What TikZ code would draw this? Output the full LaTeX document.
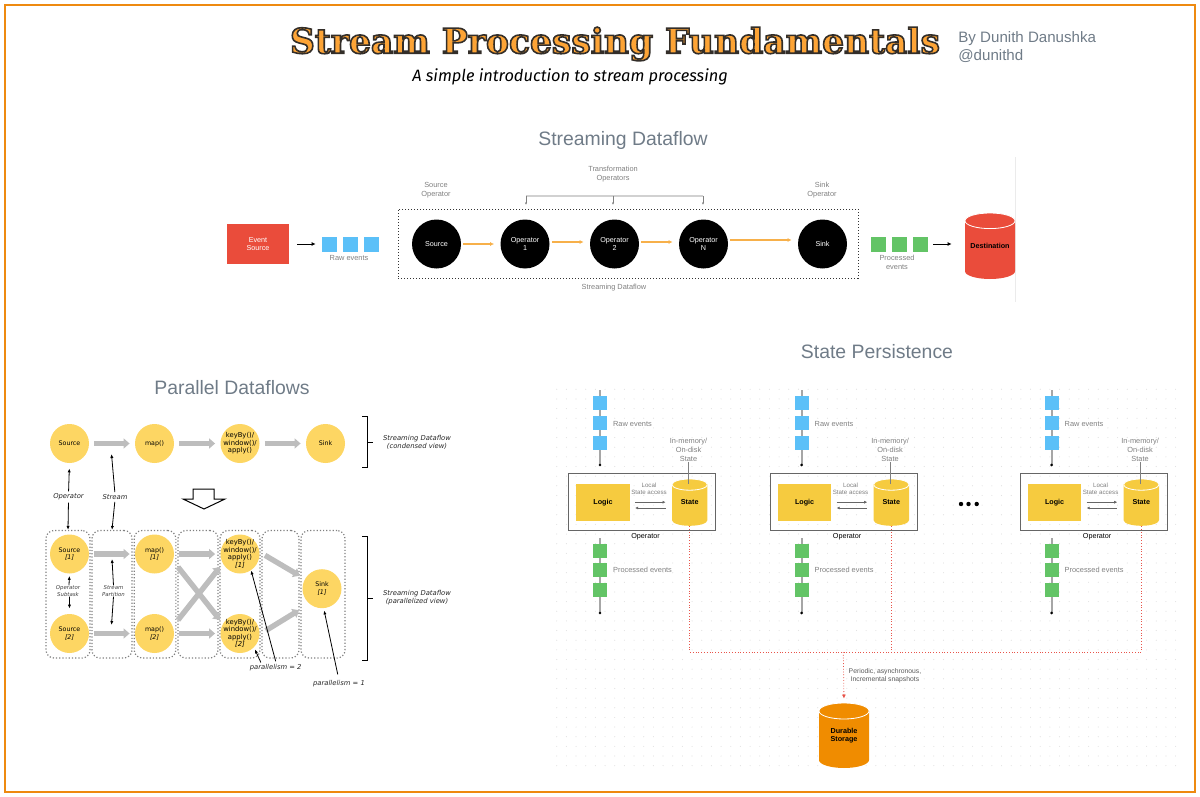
\documentclass[tikz,border=0pt]{standalone}
\usepackage{fontspec}
\setmainfont{Liberation Sans}
\newfontfamily\vera{DejaVu Sans}
\newfontfamily\chunky{DejaVu Serif}
\newfontfamily\hand{Fira Sans}
\usetikzlibrary{arrows.meta,calc}
\definecolor{frameor}{HTML}{EE8A10}
\definecolor{titleor}{HTML}{FDA436}
\definecolor{headgray}{HTML}{6F7B87}
\definecolor{notegray}{HTML}{808080}
\definecolor{evred}{HTML}{EA4C3B}
\definecolor{evblue}{HTML}{5BC0F8}
\definecolor{evgreen}{HTML}{63C466}
\definecolor{flowor}{HTML}{F7B04A}
\definecolor{bubble}{HTML}{FDD663}
\definecolor{lanegray}{HTML}{BDBDBD}
\definecolor{logicyel}{HTML}{F6CB3F}
\definecolor{durable}{HTML}{F08C00}
\definecolor{dotgray}{HTML}{E2E2E2}
\definecolor{snapred}{HTML}{E8544A}
\newcommand{\sz}[1]{\fontsize{#1pt}{\dimexpr#1pt*118/100\relax}\selectfont}
\newcommand{\outlined}{\special{pdf:code 0.2 0.18 0.16 RG 2 Tr 0.8 w}}

\begin{document}
\begin{tikzpicture}[x=0.5pt,y=-0.5pt,
  head/.style={text=headgray,font=\sz{9.7}},
  note/.style={text=notegray,font=\sz{3.7},align=center,inner sep=0pt},
  op/.style={circle,fill=black,text=white,minimum size=24.5pt,inner sep=0pt,align=center,font=\sz{3.6}},
  flow/.style={-{Latex[length=2pt,width=2pt]},flowor,line width=0.7pt,shorten >=3pt,shorten <=1pt},
  thin arrow/.style={-{Latex[length=2pt,width=2pt]},black,line width=0.5pt},
  event/.style={minimum size=7.5pt,inner sep=0pt},
  drum/.style n args={3}{inner sep=0pt,align=center,font=\bfseries\sz{3.6},minimum width=2*#2,
    path picture={
      \fill[#1] ([yshift=-#3]path picture bounding box.north west)
        -- ([yshift=#3]path picture bounding box.south west)
        arc[start angle=180,end angle=360,x radius=#2,y radius=#3]
        -- ([yshift=-#3]path picture bounding box.north east) -- cycle;
      \draw[fill=#1,draw=white,line width=0.4pt] ([yshift=-#3]path picture bounding box.north) ellipse [x radius=#2,y radius=#3];
    }},
  bubble/.style={circle,fill=bubble,minimum size=19.5pt,inner sep=0pt,align=center,font=\vera\sz{3.15}},
  keybubble/.style={bubble,inner sep=-2.5pt,font=\vera\fontsize{3.4pt}{3.75pt}\selectfont},
  stream/.style={-{Triangle[length=3pt,width=5pt]},lanegray,line width=2.7pt,shorten <=2.5pt,shorten >=2.5pt},
  lane/.style={draw=gray,densely dotted,line width=0.6pt,rounded corners=4pt,minimum height=63.75pt,inner sep=0pt},
  call/.style={-{Latex[length=2pt,width=1.6pt]},black,line width=0.4pt},
  ital/.style={font=\vera\itshape\sz{3.4},align=center,inner sep=0pt,text=black!85},
  tiny/.style={font=\vera\itshape\sz{2.7},align=center,inner sep=0pt,text=black!75},
  brak/.style={black,line width=0.4pt},
  snap/.style={snapred,densely dotted,line width=0.4pt}]
\useasboundingbox (0,0) rectangle (1200,797);
\draw[frameor,line width=1pt] (5,5) rectangle (1195,791.5);

% title
\node[inner sep=0pt] (title) at (615,44) {\color{titleor}\outlined\chunky\bfseries\fontsize{17.25}{18}\selectfont Stream Processing Fundamentals};
\node[inner sep=0pt] (subtitle) at (568,76.5) {\hand\itshape\sz{8.2} A simple introduction to stream processing};
\node[text=headgray,font=\sz{7.55},align=left,inner sep=0pt,anchor=west] (byline) at (958,47) {By Dunith Danushka\\@dunithd};

% streaming dataflow
\node[head] (headflow) at (623,140) {Streaming Dataflow};
\draw[black!8,line width=0.3pt] (1015.5,157) -- (1015.5,302);
\node[fill=evred,text=white,minimum width=31pt,minimum height=20pt,inner sep=0pt,align=center,font=\sz{3.6}] (evsrc) at (258,244) {Event\\Source};
\node[draw=black!80,densely dotted,line width=0.5pt,minimum width=230pt,minimum height=34.5pt,inner sep=0pt] (box) at (628,243.5) {};
\foreach \n/\x in {1/329.5,2/350.5,3/371.5}
  \node[event,fill=evblue] (raw\n) at (\x,244) {};
\foreach \n/\x in {1/878.5,2/899.5,3/920.5}
  \node[event,fill=evgreen] (done\n) at (\x,244) {};
\node[note] (rawlab) at (349,258) {Raw events};
\node[note] (donelab) at (897,262.5) {Processed\\events};
\node[op] (source) at (436.5,244) {Source};
\node[op] (op1) at (525,244) {Operator\\1};
\node[op] (op2) at (614.5,244) {Operator\\2};
\node[op] (opn) at (703.5,244) {Operator\\N};
\node[op] (sink) at (822.5,244) {Sink};
\node[drum={evred}{25pt/2}{3.9pt},minimum height=33pt] (dest) at (990,246) {Destination};
\node[note] (srclab) at (436,190) {Source\\Operator};
\node[note] (translab) at (613,174) {Transformation\\Operators};
\node[note] (sinklab) at (822,190) {Sink\\Operator};
\node[note] (boxlab) at (614,288) {Streaming Dataflow};
\draw[thin arrow,shorten <=4pt,shorten >=3pt] (evsrc.east) -- (raw1.west);
\draw[flow] (source) -- (op1);
\draw[flow] ([yshift=1pt]op1.east) -- ([yshift=1pt]op2.west);
\draw[flow] ([yshift=1pt]op2.east) -- ([yshift=1pt]opn.west);
\draw[flow] ([yshift=2pt]opn.east) -- ([yshift=2pt]sink.west);
\draw[thin arrow,shorten <=2.5pt,shorten >=6.5pt] (done3.east) -- (done3 -| dest.west);
\coordinate (brl) at (526,196);
\coordinate (brm) at (613,196);
\coordinate (brr) at (703,196);
\draw[black!18,line width=0.7pt] (brl) -- (brr);
\foreach \c in {brl,brm,brr}
  \draw[-{Latex[length=1.2pt,width=1.2pt]},black!50,line width=0.25pt,shorten >=1.8pt] (\c) -- (\c |- box.north);

% parallel dataflows
\node[head] (headpar) at (232,388) {Parallel Dataflows};
\foreach \n/\c/\w in {1/68/44,2/112/40,3/155/41.7,4/198/40,5/240/40,6/280.5/37,7/323/44}
  \node[lane,minimum width=\w*0.5pt] (lane\n) at (\c,594.25) {};
\node[bubble] (csrc) at (69.5,443.5) {Source};
\node[bubble] (cmap) at (154.5,443.5) {map()};
\node[keybubble] (ckey) at (240,443.5) {keyBy()/\\window()/\\apply()};
\node[bubble] (csink) at (325.5,443.5) {Sink};
\node[bubble] (src1) at (69.5,554) {Source\\\itshape[1]};
\node[bubble] (src2) at (69.5,633.5) {Source\\\itshape[2]};
\node[bubble] (map1) at (154.5,554) {map()\\\itshape[1]};
\node[bubble] (map2) at (154.5,633.5) {map()\\\itshape[2]};
\node[keybubble] (key1) at (240,554) {keyBy()/\\window()/\\apply()\\\itshape[1]};
\node[keybubble] (key2) at (240,633.5) {keyBy()/\\window()/\\apply()\\\itshape[2]};
\node[bubble] (psink) at (322,588.7) {Sink\\\itshape[1]};
\draw[stream] (csrc) -- (cmap);
\draw[stream] (cmap) -- (ckey);
\draw[stream] (ckey) -- (csink);
\draw[stream] (src1) -- (map1);
\draw[stream] (src2) -- (map2);
\draw[stream] (map1) -- (key1);
\draw[stream] (map2) -- (key2);
\coordinate (xa) at (178,567);
\coordinate (xb) at (220,620);
\coordinate (xc) at (178,620);
\coordinate (xd) at (220,567);
\draw[stream,shorten <=0pt,shorten >=0pt] (xa) -- (xb);
\draw[stream,shorten <=0pt,shorten >=0pt] (xc) -- (xd);
\draw[stream,shorten <=3pt,shorten >=3pt] (key1.5) -- (psink.150);
\draw[stream,shorten <=3.5pt,shorten >=6pt] (key2.-2) -- (psink.-130);
\draw[black,line width=0.5pt,fill=white] (193,489) -- (214,489) -- (214,499) -- (225,499) -- (204,509) -- (183,499) -- (193,499) -- cycle;
\node[ital] (oplab) at (68.5,497) {Operator};
\node[ital] (strlab) at (115,497) {Stream};
\node[tiny] (sublab) at (68,591) {Operator\\Subtask};
\node[tiny] (partlab) at (113.5,591) {Stream\\Partition};
\coordinate (strtop) at (111.5,454);
\coordinate (partup) at (112,559);
\coordinate (partdn) at (111.5,625);
\draw[call,shorten >=2.5pt,shorten <=1pt] (oplab.north) -- (csrc.south);
\draw[call,shorten <=1pt] (oplab.south) -- (lane1.north);
\draw[call,shorten <=1pt] (strlab.north) -- (strtop);
\draw[call,shorten <=1pt] (strlab.south) -- (lane2.north);
\draw[call,shorten >=1pt] ([xshift=0.5pt]sublab.north) -- (src1.south);
\draw[call,shorten >=2.5pt] ([xshift=0.7pt]sublab.south) -- (src2.north);
\draw[call] (partlab.north) -- (partup);
\draw[call] (partlab.south) -- (partdn);
\node[ital] (parc) at (417,442) {Streaming Dataflow\\(condensed view)};
\node[ital] (parp) at (417,598) {Streaming Dataflow\\(parallelized view)};
\draw[brak] (362,416.5) -- (367,416.5) -- (367,467.5) -- (362,467.5) (367,442) -- (373,442);
\draw[brak] (362,536) -- (367,536) -- (367,660.7) -- (362,660.7) (367,598.5) -- (373,598.5);
\node[ital] (par2) at (275.7,668) {parallelism = 2};
\node[ital] (par1) at (339,684) {parallelism = 1};
\draw[call] ([yshift=1.5pt]par2.north) -- (key1.-56);
\draw[call,shorten >=1pt,shorten <=1pt] ([xshift=-7pt]par2.north) -- (key2.-45);
\draw[call,shorten >=1pt,shorten <=3pt] (par1.north) -- (psink.-85);

% state persistence
\node[head] (headstate) at (877,352) {State Persistence};
\foreach \x in {0,...,64}
  \foreach \y in {0,...,39}
    \fill[dotgray] (556.7+\x*9.67,389.3+\y*9.65) circle (0.3pt);
\foreach \n/\dx in {a/0,b/201.6,c/451.6} {
  \begin{scope}[xshift=\dx*0.5pt]
    \coordinate (intop\n) at (600,390);
    \coordinate (inend\n) at (600,465);
    \coordinate (outtop\n) at (600,538);
    \coordinate (outend\n) at (600,613);
    \draw[black!35,line width=1pt] (intop\n) -- (inend\n);
    \draw[black!35,line width=1pt] (outtop\n) -- (outend\n);
    \fill[black] (inend\n) circle (0.7pt) (outend\n) circle (0.7pt);
    \foreach \i/\y in {1/403,2/423,3/443}
      \node[event,minimum size=7pt,fill=evblue] (in\n\i) at (600,\y) {};
    \foreach \i/\y in {1/551,2/570,3/590}
      \node[event,minimum size=7pt,fill=evgreen] (out\n\i) at (600,\y) {};
    \node[note,anchor=west] (inlab\n) at (612.7,423.5) {Raw events};
    \node[note,anchor=west] (outlab\n) at (612.7,570) {Processed events};
    \node[draw=black!60,line width=0.45pt,minimum width=73.5pt,minimum height=28.5pt,inner sep=0pt] (oper\n) at (642.2,502.2) {};
    \node[fill=logicyel,minimum width=26.7pt,minimum height=18.5pt,inner sep=0pt,font=\bfseries\sz{3.6}] (logic\n) at (603,502.2) {Logic};
    \node[drum={logicyel}{8.85pt}{2.8pt},minimum height=23.4pt] (state\n) at (689.7,502.4) {State};
    \node[note] (memlab\n) at (688.5,450) {In-memory/\\On-disk\\State};
    \draw[black!50,line width=0.4pt] (memlab\n.south) -- ++(0,22);
    \node[note,font=\sz{3.1}] (loclab\n) at (649,489) {Local\\State access};
    \draw[-{Latex[length=1.5pt,width=1.5pt]},black!60,line width=0.4pt] (logic\n.east) ++(5,0) -- ++(30.5,0);
    \draw[{Latex[length=1.5pt,width=1.5pt]}-,black!60,line width=0.4pt] (logic\n.east) ++(5,5.8) -- ++(30.5,0);
    \node[inner sep=0pt,font=\sz{3.6}] (oplab\n) at (645.5,536.7) {Operator};
  \end{scope}
}
\foreach \n/\x in {1/961,2/968.5,3/976.7}
  \node[circle,fill=black,minimum size=2.2pt,inner sep=0pt] (more\n) at (\x,504) {};
\node[drum={durable}{25pt/2}{4pt},minimum height=32.5pt] (store) at (844,735.5) {Durable\\Storage};
\coordinate (snapmid) at (843.3,652);
\draw[snap] (statea.south) |- (snapmid);
\draw[snap] (statec.south) |- (snapmid);
\draw[snap] (stateb.south) -- (stateb.south |- snapmid);
\draw[snap,-{Latex[length=2pt,width=2pt]},shorten >=2pt] (snapmid) -- (store.north);
\node[note,text=black!65,font=\sz{3.4}] (snaplab) at (885,676) {Periodic, asynchronous,\\Incremental snapshots};
\end{tikzpicture}
\end{document}
